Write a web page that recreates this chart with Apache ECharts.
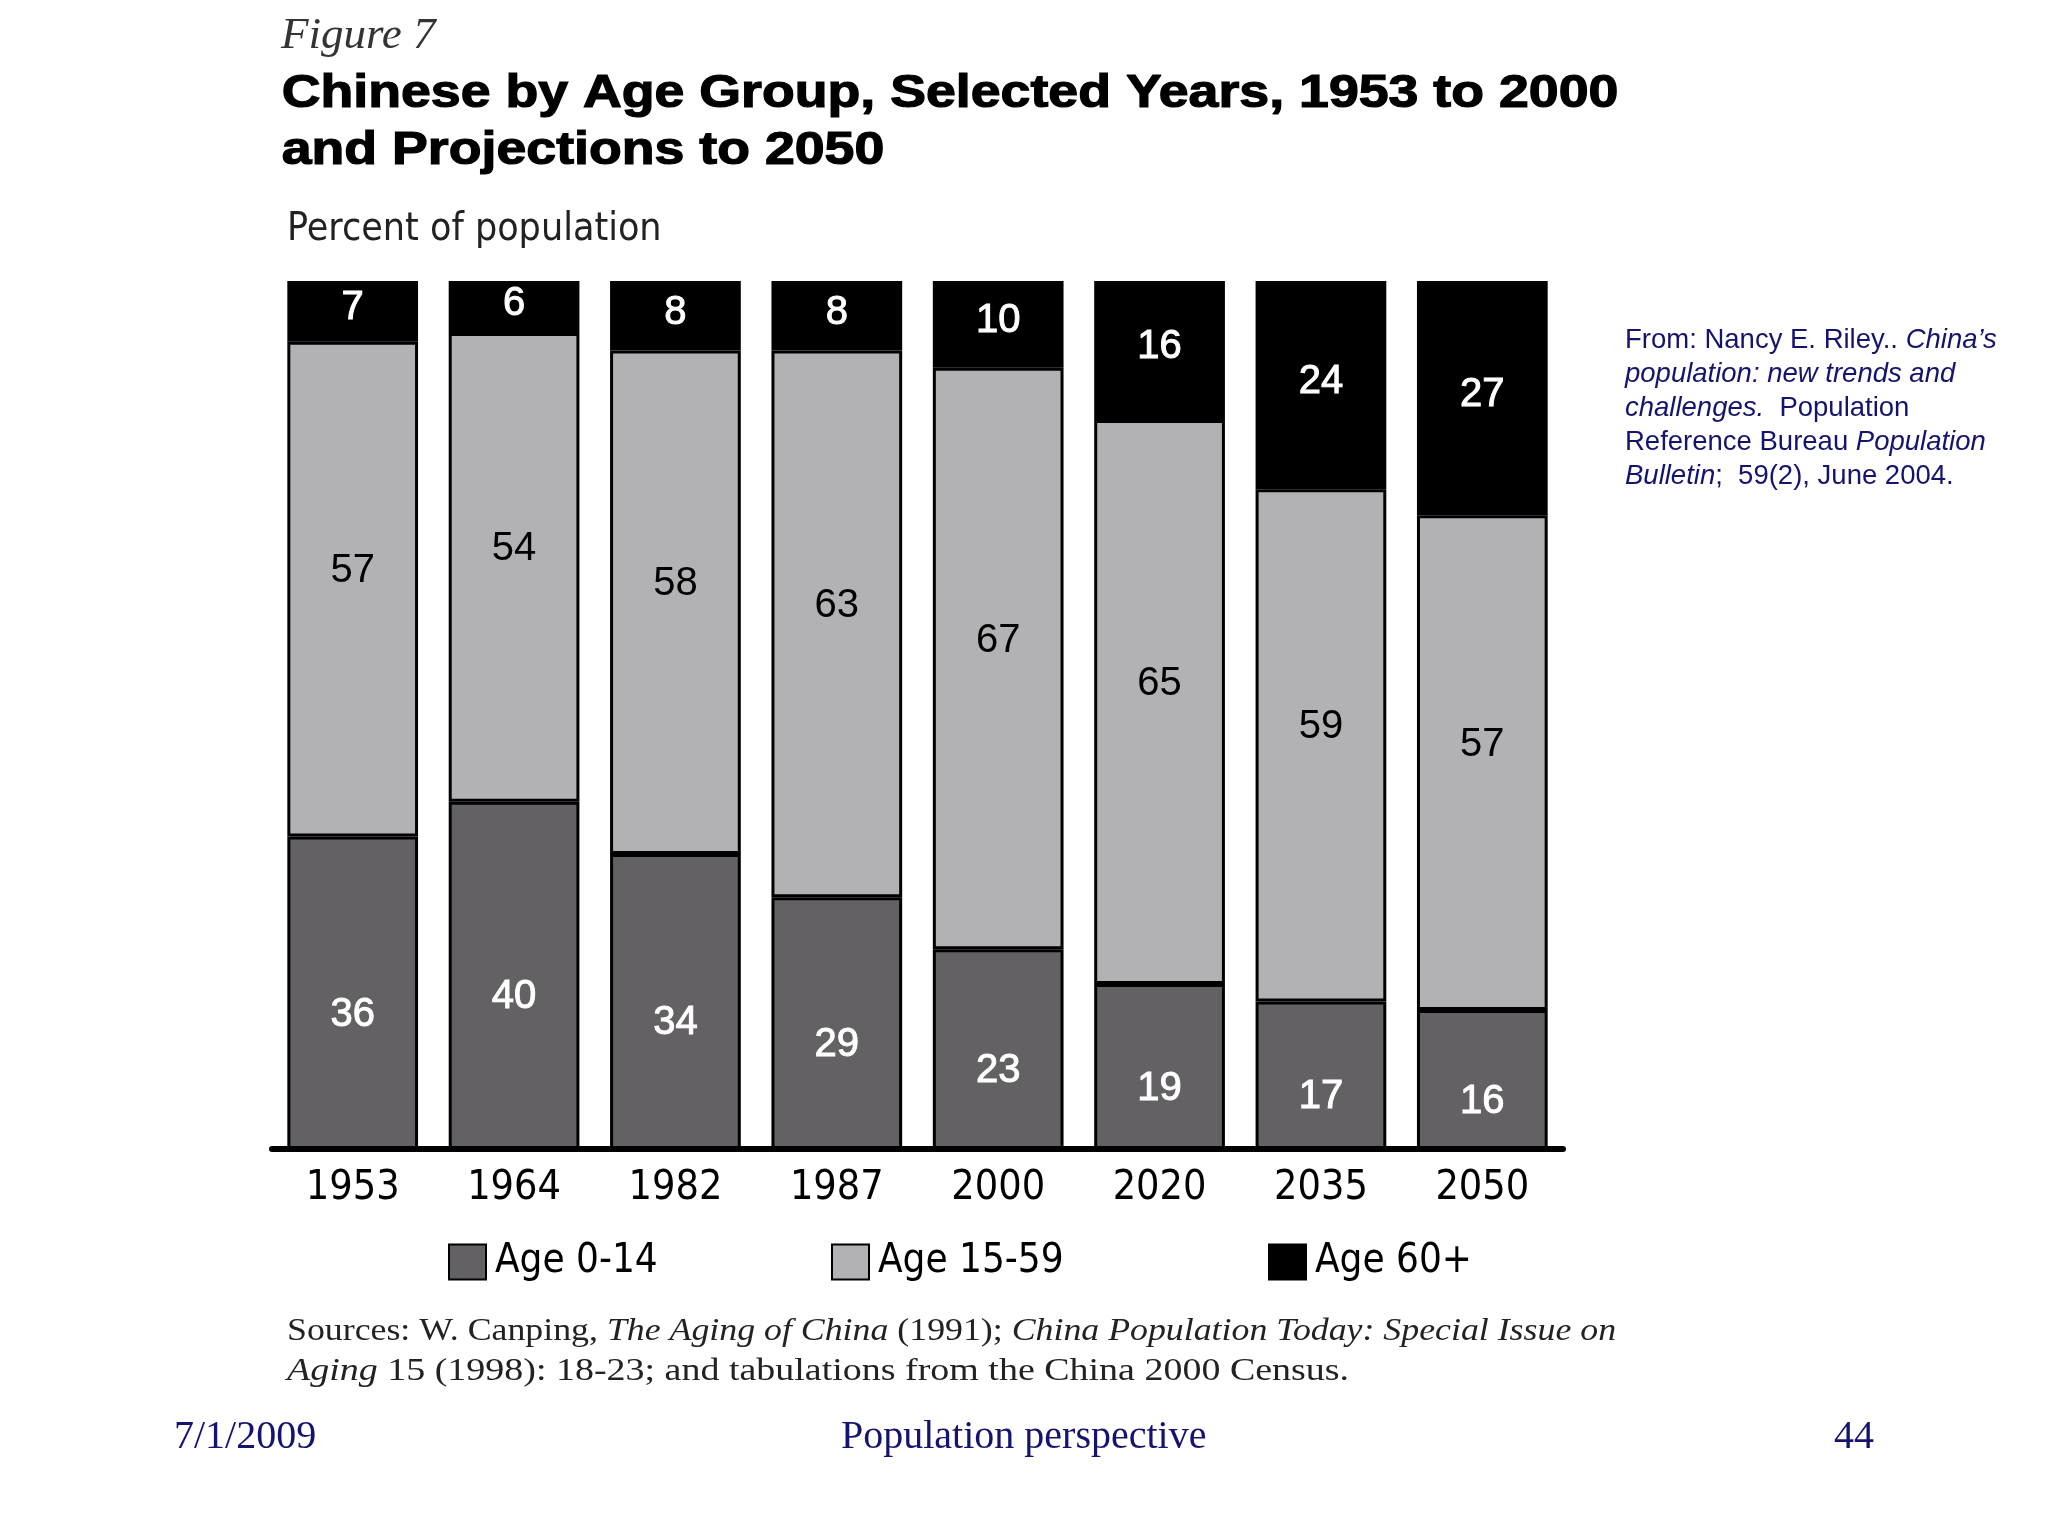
<!DOCTYPE html>
<html>
<head>
<meta charset="utf-8">
<script src="https://cdn.jsdelivr.net/npm/echarts@6/dist/echarts.min.js"></script>
<style>
  html, body { margin: 0; padding: 0; background: #fff; }
  #chart { width: 2048px; height: 1536px; }
</style>
</head>
<body>
<div id="chart"></div>
<script>
// 年份
var years = ['1953', '1964', '1982', '1987', '2000', '2020', '2035', '2050'];
// 各年龄段占比（%）
var age0to14 = [36, 40, 34, 29, 23, 19, 17, 16];
var age15to59 = [57, 54, 58, 63, 67, 65, 59, 57];
var age60plus = [7, 6, 8, 8, 10, 16, 24, 27];

var sans = 'Liberation Sans, Arial, sans-serif';
var narrow = 'Liberation Sans Narrow, DejaVu Sans Condensed, sans-serif';
var serif = 'Liberation Serif, Times New Roman, serif';
var navy = '#14146e';

var myChart = echarts.init(document.getElementById('chart'));

function barSeries(name, data, fill, labelColor, dy) {
  return {
    name: name,
    type: 'bar',
    stack: 'total',
    barCategoryGap: '19%',
    data: data,
    itemStyle: {
      color: fill,
      borderColor: '#000',
      borderWidth: 3
    },
    label: {
      show: true,
      position: 'inside',
      offset: [0, dy],
      color: labelColor,
      fontSize: 40,
      fontFamily: sans,
      textBorderColor: labelColor,
      textBorderWidth: labelColor === '#fff' ? 1 : 0
    },
    emphasis: { disabled: true }
  };
}

function legendItem(name, left) {
  return {
    data: [name],
    left: left,
    top: 1237,
    icon: 'rect',
    itemWidth: 37,
    itemHeight: 35,
    itemGap: 0,
    selectedMode: false,
    textStyle: {
      fontSize: 40,
      fontFamily: narrow,
      color: '#000',
      padding: [0, 0, 0, 4]
    }
  };
}

var option = {
  backgroundColor: '#fff',
  animation: false,
  grid: {
    left: 272,
    width: 1291,
    top: 281,
    height: 868
  },
  xAxis: {
    type: 'category',
    data: years,
    axisTick: { show: false },
    axisLine: {
      lineStyle: { color: '#000', width: 6 }
    },
    axisLabel: {
      color: '#000',
      fontSize: 41,
      fontFamily: narrow,
      margin: 19
    }
  },
  yAxis: {
    type: 'value',
    min: 0,
    max: 100,
    show: false
  },
  legend: [
    legendItem('Age 0-14', 443),
    legendItem('Age 15-59', 826),
    legendItem('Age 60+', 1263)
  ],
  series: [
    barSeries('Age 0-14', age0to14, '#636163', '#fff', 22),
    barSeries('Age 15-59', age15to59, '#b2b1b3', '#000', -18),
    barSeries('Age 60+', age60plus, '#000', '#fff', -3)
  ],
  graphic: [
    {
      type: 'text', left: 281, top: 14,
      style: { text: 'Figure 7', font: 'italic 45px ' + serif, fill: '#333' }
    },
    {
      type: 'text', left: 281, top: 66, scaleX: 1.167,
      style: {
        text: 'Chinese by Age Group, Selected Years, 1953 to 2000\nand Projections to 2050',
        font: 'bold 46px ' + sans, fill: '#000', lineHeight: 57,
        stroke: '#000', lineWidth: 1.2
      }
    },
    {
      type: 'text', left: 287, top: 210,
      style: { text: 'Percent of population', font: '39px ' + narrow, fill: '#222' }
    },
    {
      type: 'text', left: 1625, top: 326,
      style: {
        text: '{n|From: Nancy E. Riley.. }{i|China’s}\n' +
              '{i|population: new trends and}\n' +
              '{i|challenges.}{n|  Population}\n' +
              '{n|Reference Bureau }{i|Population}\n' +
              '{i|Bulletin}{n|;  59(2), June 2004.}',
        rich: {
          n: { font: '27.5px ' + sans, fill: navy, lineHeight: 34 },
          i: { font: 'italic 27.5px ' + sans, fill: navy, lineHeight: 34 }
        }
      }
    },
    {
      type: 'text', left: 287, top: 1316, scaleX: 1.155,
      style: {
        text: '{n|Sources: W. Canping, }{i|The Aging of China}{n| (1991); }{i|China Population Today: Special Issue on}',
        rich: {
          n: { font: '31px ' + serif, fill: '#222', lineHeight: 40 },
          i: { font: 'italic 31px ' + serif, fill: '#222', lineHeight: 40 }
        }
      }
    },
    {
      type: 'text', left: 287, top: 1356, scaleX: 1.225,
      style: {
        text: '{i|Aging}{n| 15 (1998): 18-23; and tabulations from the China 2000 Census.}',
        rich: {
          n: { font: '31px ' + serif, fill: '#222', lineHeight: 40 },
          i: { font: 'italic 31px ' + serif, fill: '#222', lineHeight: 40 }
        }
      }
    },
    {
      type: 'text', left: 174, top: 1417,
      style: { text: '7/1/2009', font: '40px ' + serif, fill: navy }
    },
    {
      type: 'text', left: 841, top: 1417,
      style: { text: 'Population perspective', font: '40px ' + serif, fill: navy }
    },
    {
      type: 'text', left: 1834, top: 1417,
      style: { text: '44', font: '40px ' + serif, fill: navy }
    }
  ]
};

myChart.setOption(option);
</script>
</body>
</html>
